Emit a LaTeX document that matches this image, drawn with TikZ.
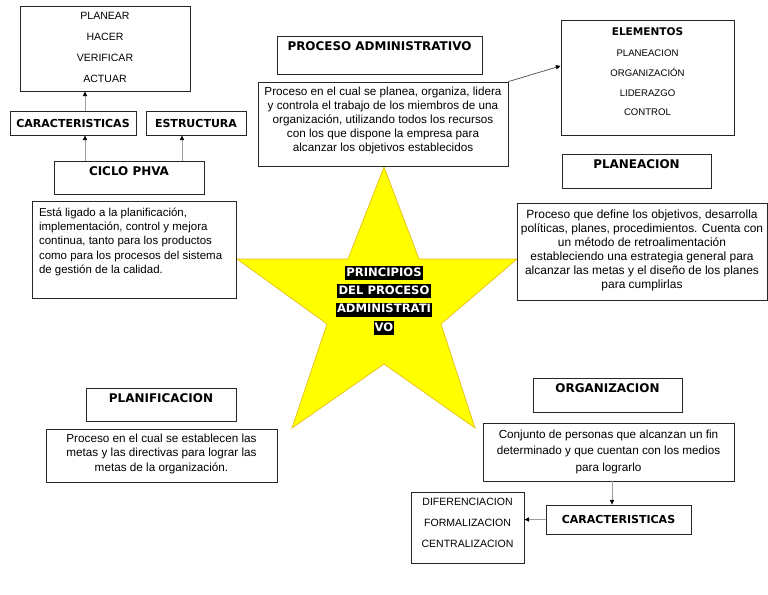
\documentclass[tikz,border=0pt]{standalone}
\usepackage{fontspec}
\setmainfont{Liberation Sans}
\newfontfamily\headfont{DejaVu Sans}
\usetikzlibrary{arrows.meta,calc}
\definecolor{starfill}{RGB}{255,255,0}
\definecolor{staredge}{RGB}{232,190,20}
\newcommand{\topbox}[4]{\parbox[c][#2][t]{#1}{\vspace*{#3}\centering#4\par}}
\newcommand{\blackbar}[1]{\colorbox{black}{\rule[-2.2pt]{0pt}{10pt}#1}}
\setlength{\fboxsep}{1pt}

\begin{document}
\begin{tikzpicture}[x=0.03cm,y=-0.03cm,
  >={Triangle[width=3.6pt,length=4pt,color=black]},
  box/.style={draw=black!85,line width=0.7pt,fill=white,inner sep=0pt},
  head/.style={box,font=\headfont\bfseries\fontsize{10.2}{12}\selectfont},
  headsm/.style={box,font=\headfont\bfseries\fontsize{9.4}{11}\selectfont},
  desc/.style={box,font=\fontsize{10}{12.1}\selectfont},
  lst/.style={box,font=\fontsize{9}{17.9}\selectfont},
  conn/.style={draw=gray!75,line width=0.6pt,->}]

  \path[use as bounding box,fill=white] (0,0) rectangle (768,594);

  % estrella central
  \filldraw[fill=starfill,draw=staredge,line width=0.6pt]
    (384,167) -- (419,259) -- (517,259) -- (441,324) -- (475,428) -- (384,364)
    -- (292,428) -- (327,324) -- (237,259) -- (348,259) -- cycle;
  \node[align=center,text=white,font=\headfont\bfseries\fontsize{9.9}{15.6}\selectfont]
    (titulo) at (384,300.5)
    {\blackbar{PRINCIPIOS}\\\blackbar{DEL PROCESO}\\\blackbar{ADMINISTRATI}\\\blackbar{VO}};

  % ciclo PHVA
  \node[lst] (phva) at (105,48.5)
    {\topbox{5.1cm}{2.55cm}{5pt}{PLANEAR\\HACER\\VERIFICAR\\ACTUAR}};
  \node[headsm,minimum width=3.78cm,minimum height=0.72cm] (carac1) at (73,123) {CARACTERISTICAS};
  \node[headsm,minimum width=3cm,minimum height=0.72cm] (estr) at (196,123) {ESTRUCTURA};
  \node[head] (ciclo) at (129,177.5) {\topbox{4.5cm}{0.99cm}{5.2pt}{CICLO PHVA}};
  \node[desc,font=\fontsize{9.8}{12.1}\selectfont] (ligado) at (134,249.5)
    {\parbox[c][2.91cm][t]{6.12cm}{\vspace*{6pt}\raggedright\leftskip=6pt
     Está ligado a la planificación,\\implementación, control y mejora\\continua, tanto para los productos\\como para los procesos del sistema\\de gestión de la calidad.\par}};
  \coordinate (phvax) at (85,0);
  \coordinate (estrx) at (182,0);
  \draw[conn] (ciclo.north -| phvax) -- (carac1.south -| phvax);
  \draw[conn] (carac1.north -| phvax) -- (phva.south -| phvax);
  \draw[conn] (ciclo.north -| estrx) -- (estr.south -| estrx);

  % proceso administrativo
  \node[head] (proc) at (379.5,55) {\topbox{6.15cm}{1.14cm}{4.6pt}{PROCESO ADMINISTRATIVO}};
  \node[desc] (procdesc) at (383,124)
    {\topbox{7.5cm}{2.52cm}{4pt}{Proceso en el cual se planea, organiza, lidera\\y controla el trabajo de los miembros de una\\organización, utilizando todos los recursos\\con los que dispone la empresa para\\alcanzar los objetivos establecidos}};
  \node[lst,font=\fontsize{8.2}{16.8}\selectfont] (elem) at (647.5,77.5)
    {\topbox{5.19cm}{3.45cm}{6.5pt}{{\headfont\bfseries\fontsize{9}{11}\selectfont ELEMENTOS}\\[1.5pt]PLANEACION\\ORGANIZACIÓN\\LIDERAZGO\\CONTROL}};
  \draw[conn,draw=black!70] (procdesc.north east) -- ($(elem.north west)!0.4!(elem.south west)$);

  % planeacion
  \node[head] (plan) at (636.5,171) {\topbox{4.47cm}{1.02cm}{5.2pt}{PLANEACION}};
  \node[desc,font=\fontsize{10.2}{12.1}\selectfont] (plandesc) at (642,251.5)
    {\topbox{7.5cm}{2.91cm}{5.5pt}{Proceso que define los objetivos, desarrolla\\políticas, planes, procedimientos. Cuenta con\\un método de retroalimentación\\estableciendo una estrategia general para\\alcanzar las metas y el diseño de los planes\\para cumplirlas}};

  % planificacion
  \node[head] (planif) at (161,404.5) {\topbox{4.5cm}{0.99cm}{5.2pt}{PLANIFICACION}};
  \node[desc] (planifdesc) at (161.5,455.5)
    {\topbox{6.93cm}{1.59cm}{4.5pt}{Proceso en el cual se establecen las\\metas y las directivas para lograr las\\metas de la organización.}};

  % organizacion
  \node[head] (org) at (607.5,395) {\topbox{4.47cm}{1.02cm}{5.2pt}{ORGANIZACION}};
  \node[desc,font=\fontsize{10}{14}\selectfont] (orgdesc) at (608.5,452)
    {\topbox{7.53cm}{1.74cm}{6pt}{Conjunto de personas que alcanzan un fin\\determinado y que cuentan con los medios\\para lograrlo}};
  \node[headsm,minimum width=4.35cm,minimum height=0.87cm] (carac2) at (618.5,519.5) {CARACTERISTICAS};
  \node[lst] (orglist) at (467.5,527.5)
    {\topbox{3.39cm}{2.13cm}{5pt}{DIFERENCIACION\\FORMALIZACION\\CENTRALIZACION}};
  \coordinate (orgx) at (612,0);
  \draw[conn] (orgdesc.south -| orgx) -- (carac2.north -| orgx);
  \draw[conn] (carac2.west) -- (carac2.west -| orglist.east);
\end{tikzpicture}
\end{document}
